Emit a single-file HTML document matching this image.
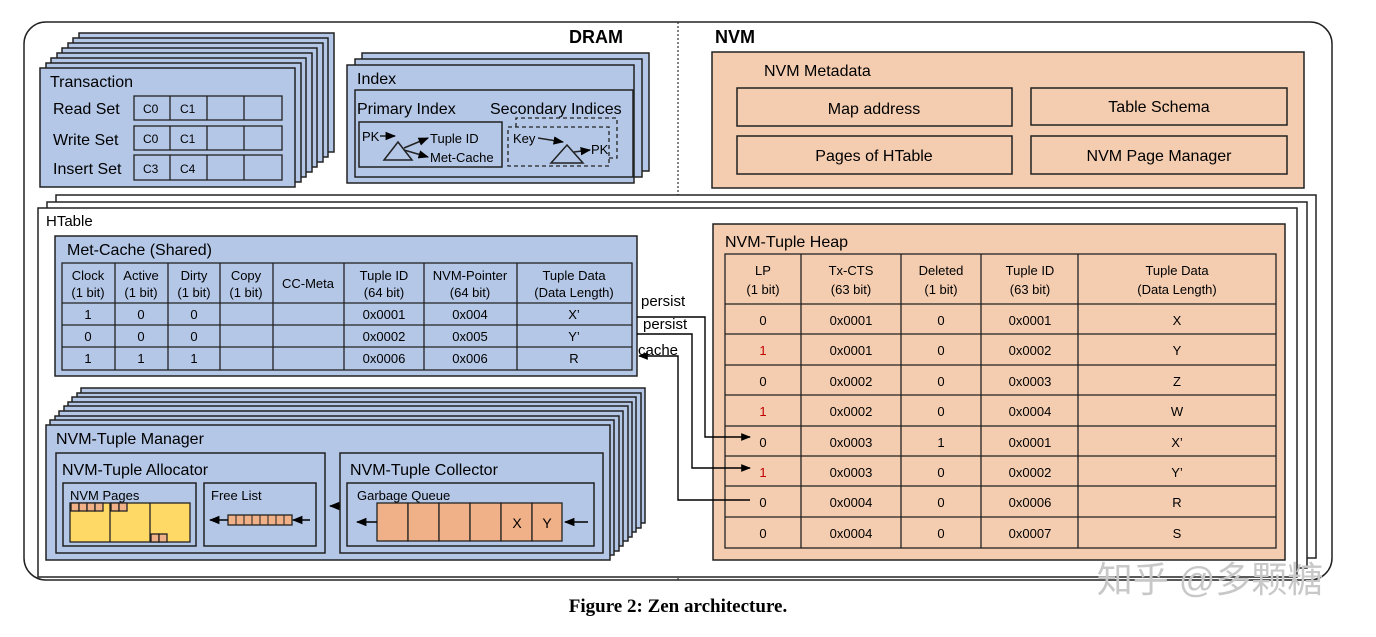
<!DOCTYPE html>
<html><head><meta charset="utf-8"><style>
html,body{margin:0;padding:0;background:#fff;width:1376px;height:637px;overflow:hidden}
svg{display:block}
text{font-family:"Liberation Sans",sans-serif;fill:#000}
</style></head><body>
<svg width="1376" height="637" viewBox="0 0 1376 637" xmlns="http://www.w3.org/2000/svg">
<defs>
<marker id="ar" viewBox="0 0 10 10" refX="9" refY="5" markerWidth="7" markerHeight="7" orient="auto"><path d="M0,1 L10,5 L0,9 z" fill="#000"/></marker>
</defs>
<g stroke="#222" stroke-width="1.5">
<!-- outer rounded -->
<rect x="24" y="22" width="1308" height="558" rx="22" fill="#fff"/>
</g>
<line x1="678" y1="22" x2="678" y2="580" stroke="#333" stroke-width="1.2" stroke-dasharray="2,2"/>
<text x="596" y="43" font-weight="bold" font-size="18" text-anchor="middle">DRAM</text>
<text x="735" y="43" font-weight="bold" font-size="18" text-anchor="middle">NVM</text>

<!-- Transaction stack -->
<g stroke="#222" stroke-width="1.5" fill="#b4c7e7">
<rect x="79" y="33" width="255" height="119"/>
<rect x="73" y="38" width="255" height="119"/>
<rect x="68" y="43" width="255" height="119"/>
<rect x="62" y="48" width="255" height="119"/>
<rect x="57" y="53" width="255" height="119"/>
<rect x="51" y="58" width="255" height="119"/>
<rect x="46" y="63" width="255" height="119"/>
<rect x="40" y="68" width="255" height="119"/>
</g>
<text x="50" y="87" font-size="16">Transaction</text>
<text x="53" y="114" font-size="16">Read Set</text>
<text x="53" y="145" font-size="16">Write Set</text>
<text x="53" y="174" font-size="16">Insert Set</text>
<g stroke="#222" stroke-width="1.3" fill="none">
<rect x="134" y="96" width="148" height="24"/><line x1="170" y1="96" x2="170" y2="120"/><line x1="207" y1="96" x2="207" y2="120"/><line x1="244" y1="96" x2="244" y2="120"/>
<rect x="134" y="126" width="148" height="24"/><line x1="170" y1="126" x2="170" y2="150"/><line x1="207" y1="126" x2="207" y2="150"/><line x1="244" y1="126" x2="244" y2="150"/>
<rect x="134" y="155" width="148" height="25"/><line x1="170" y1="155" x2="170" y2="180"/><line x1="207" y1="155" x2="207" y2="180"/><line x1="244" y1="155" x2="244" y2="180"/>
</g>
<g font-size="12"><text x="143" y="113">C0</text><text x="180" y="113">C1</text><text x="143" y="143">C0</text><text x="180" y="143">C1</text><text x="143" y="173">C3</text><text x="180" y="173">C4</text></g>

<!-- Index stack -->
<g stroke="#222" stroke-width="1.5" fill="#b4c7e7">
<rect x="362" y="53" width="287" height="118"/>
<rect x="355" y="59" width="287" height="118"/>
<rect x="347" y="65" width="287" height="118"/>
<rect x="355" y="90" width="278" height="87"/>
<rect x="359" y="122" width="143" height="45"/>
</g>
<text x="357" y="84" font-size="16">Index</text>
<text x="357" y="114" font-size="16">Primary Index</text>
<text x="490" y="114" font-size="16">Secondary Indices</text>
<g stroke="#222" stroke-width="1.3" fill="none" stroke-dasharray="4,3">
<polyline points="516,127 516,118 617,118 617,158 609,158"/>
<rect x="508" y="127" width="101" height="39"/>
</g>
<g stroke="#222" stroke-width="1.5" fill="none">
<polygon points="398,142 384,160 412,160"/>
<polygon points="567,145 551,163 583,163"/>
<line x1="380" y1="136" x2="395" y2="136" marker-end="url(#ar)"/>
<line x1="404" y1="148" x2="428" y2="138" marker-end="url(#ar)"/>
<line x1="404" y1="150" x2="428" y2="157" marker-end="url(#ar)"/>
<line x1="538" y1="138" x2="563" y2="142" marker-end="url(#ar)"/>
<line x1="574" y1="152" x2="590" y2="150" marker-end="url(#ar)"/>
</g>
<g font-size="13"><text x="362" y="141">PK</text><text x="430" y="143">Tuple ID</text><text x="430" y="162">Met-Cache</text><text x="513" y="143">Key</text><text x="591" y="154">PK</text></g>

<!-- NVM Metadata -->
<g stroke="#222" stroke-width="1.5" fill="#f4cdb0">
<rect x="712" y="52" width="592" height="136"/>
<rect x="737" y="88" width="275" height="38"/>
<rect x="1031" y="88" width="256" height="37"/>
<rect x="737" y="136" width="275" height="38"/>
<rect x="1031" y="136" width="256" height="38"/>
</g>
<text x="764" y="76" font-size="16">NVM Metadata</text>
<g font-size="16" text-anchor="middle"><text x="874" y="114">Map address</text><text x="1159" y="112">Table Schema</text><text x="874" y="161">Pages of HTable</text><text x="1159" y="161">NVM Page Manager</text></g>

<!-- HTable stack -->
<g stroke="#222" stroke-width="1.5" fill="#fff">
<rect x="56" y="195" width="1260" height="363"/>
<rect x="47" y="202" width="1260" height="366"/>
<rect x="38" y="208" width="1259" height="369"/>
</g>
<text x="46" y="226" font-size="15">HTable</text>

<!-- Met-Cache -->
<g stroke="#222" stroke-width="1.5" fill="#b4c7e7"><rect x="55" y="236" width="582" height="140"/></g>
<text x="67" y="255" font-size="16">Met-Cache (Shared)</text>
<g stroke="#222" stroke-width="1.3" fill="none">
<rect x="62" y="263" width="570" height="107"/>
<line x1="62" y1="303" x2="632" y2="303"/><line x1="62" y1="325" x2="632" y2="325"/><line x1="62" y1="347" x2="632" y2="347"/>
<line x1="115" y1="263" x2="115" y2="370"/><line x1="168" y1="263" x2="168" y2="370"/><line x1="220" y1="263" x2="220" y2="370"/><line x1="273" y1="263" x2="273" y2="370"/><line x1="344" y1="263" x2="344" y2="370"/><line x1="424" y1="263" x2="424" y2="370"/><line x1="517" y1="263" x2="517" y2="370"/>
</g>
<g font-size="13" text-anchor="middle">
<text x="88" y="280">Clock</text><text x="88" y="297">(1 bit)</text>
<text x="141" y="280">Active</text><text x="141" y="297">(1 bit)</text>
<text x="194" y="280">Dirty</text><text x="194" y="297">(1 bit)</text>
<text x="246" y="280">Copy</text><text x="246" y="297">(1 bit)</text>
<text x="308" y="288">CC-Meta</text>
<text x="384" y="280">Tuple ID</text><text x="384" y="297">(64 bit)</text>
<text x="470" y="280">NVM-Pointer</text><text x="470" y="297">(64 bit)</text>
<text x="574" y="280">Tuple Data</text><text x="574" y="297">(Data Length)</text>
<text x="88" y="319">1</text><text x="141" y="319">0</text><text x="194" y="319">0</text><text x="384" y="319">0x0001</text><text x="470" y="319">0x004</text><text x="574" y="319">X’</text>
<text x="88" y="341">0</text><text x="141" y="341">0</text><text x="194" y="341">0</text><text x="384" y="341">0x0002</text><text x="470" y="341">0x005</text><text x="574" y="341">Y’</text>
<text x="88" y="363">1</text><text x="141" y="363">1</text><text x="194" y="363">1</text><text x="384" y="363">0x0006</text><text x="470" y="363">0x006</text><text x="574" y="363">R</text>
</g>

<!-- Manager stack -->
<g stroke="#222" stroke-width="1.5" fill="#b4c7e7">
<rect x="81" y="388" width="564" height="135"/>
<rect x="77" y="393" width="564" height="135"/>
<rect x="72" y="397" width="564" height="135"/>
<rect x="68" y="402" width="564" height="135"/>
<rect x="64" y="406" width="564" height="135"/>
<rect x="59" y="411" width="564" height="135"/>
<rect x="55" y="416" width="564" height="135"/>
<rect x="50" y="420" width="564" height="135"/>
<rect x="46" y="425" width="564" height="135"/>
<rect x="56" y="453" width="269" height="100"/>
<rect x="340" y="453" width="263" height="100"/>
<rect x="63" y="483" width="133" height="63"/>
<rect x="204" y="483" width="112" height="63"/>
<rect x="347" y="483" width="247" height="63"/>
</g>
<text x="56" y="444" font-size="16">NVM-Tuple Manager</text>
<text x="62" y="475" font-size="16">NVM-Tuple Allocator</text>
<text x="350" y="475" font-size="16">NVM-Tuple Collector</text>
<text x="70" y="500" font-size="13">NVM Pages</text>
<text x="211" y="500" font-size="13">Free List</text>
<text x="357" y="500" font-size="13">Garbage Queue</text>
<g stroke="#222" stroke-width="1.3">
<rect x="70" y="503" width="120" height="39" fill="#ffd966"/>
<line x1="110" y1="503" x2="110" y2="542"/><line x1="150" y1="503" x2="150" y2="542"/>
<g fill="#f0b088"><rect x="71" y="503" width="8" height="8"/><rect x="79" y="503" width="8" height="8"/><rect x="87" y="503" width="8" height="8"/><rect x="95" y="503" width="8" height="8"/><rect x="111" y="503" width="8" height="8"/><rect x="119" y="503" width="8" height="8"/><rect x="151" y="534" width="8" height="8"/><rect x="159" y="534" width="8" height="8"/></g>
<rect x="228" y="515" width="64" height="10" fill="#f0b088"/>
<g fill="#f0b088"><rect x="377" y="503" width="31" height="38"/><rect x="408" y="503" width="31" height="38"/><rect x="439" y="503" width="31" height="38"/><rect x="470" y="503" width="31" height="38"/><rect x="501" y="503" width="31" height="38"/><rect x="532" y="503" width="30" height="38"/></g>
</g>
<g stroke="#222" stroke-width="1" ><line x1="236" y1="515" x2="236" y2="525"/><line x1="244" y1="515" x2="244" y2="525"/><line x1="252" y1="515" x2="252" y2="525"/><line x1="260" y1="515" x2="260" y2="525"/><line x1="268" y1="515" x2="268" y2="525"/><line x1="276" y1="515" x2="276" y2="525"/><line x1="284" y1="515" x2="284" y2="525"/></g>
<text x="517" y="528" font-size="14" text-anchor="middle">X</text><text x="547" y="528" font-size="14" text-anchor="middle">Y</text>
<g stroke="#000" stroke-width="1.5" fill="none">
<line x1="228" y1="520" x2="210" y2="520" marker-end="url(#ar)"/>
<line x1="310" y1="520" x2="293" y2="520" marker-end="url(#ar)"/>
<line x1="340" y1="506" x2="330" y2="506" marker-end="url(#ar)"/>
<line x1="377" y1="522" x2="357" y2="522" marker-end="url(#ar)"/>
<line x1="588" y1="522" x2="565" y2="522" marker-end="url(#ar)"/>
</g>

<!-- NVM Tuple Heap -->
<g stroke="#222" stroke-width="1.5" fill="#f4cdb0"><rect x="713" y="224" width="572" height="336"/></g>
<text x="725" y="247" font-size="16">NVM-Tuple Heap</text>
<g stroke="#222" stroke-width="1.3" fill="none">
<rect x="725" y="254" width="551" height="294"/>
<line x1="725" y1="304" x2="1276" y2="304"/><line x1="725" y1="334" x2="1276" y2="334"/><line x1="725" y1="365" x2="1276" y2="365"/><line x1="725" y1="395" x2="1276" y2="395"/><line x1="725" y1="426" x2="1276" y2="426"/><line x1="725" y1="456" x2="1276" y2="456"/><line x1="725" y1="486" x2="1276" y2="486"/><line x1="725" y1="517" x2="1276" y2="517"/>
<line x1="801" y1="254" x2="801" y2="548"/><line x1="901" y1="254" x2="901" y2="548"/><line x1="981" y1="254" x2="981" y2="548"/><line x1="1078" y1="254" x2="1078" y2="548"/>
</g>
<g font-size="13" text-anchor="middle">
<text x="763" y="275">LP</text><text x="763" y="294">(1 bit)</text>
<text x="851" y="275">Tx-CTS</text><text x="851" y="294">(63 bit)</text>
<text x="941" y="275">Deleted</text><text x="941" y="294">(1 bit)</text>
<text x="1030" y="275">Tuple ID</text><text x="1030" y="294">(63 bit)</text>
<text x="1177" y="275">Tuple Data</text><text x="1177" y="294">(Data Length)</text>
<text x="763" y="325">0</text><text x="851" y="325">0x0001</text><text x="941" y="325">0</text><text x="1030" y="325">0x0001</text><text x="1177" y="325">X</text>
<text x="763" y="355" style="fill:#c00000">1</text><text x="851" y="355">0x0001</text><text x="941" y="355">0</text><text x="1030" y="355">0x0002</text><text x="1177" y="355">Y</text>
<text x="763" y="386">0</text><text x="851" y="386">0x0002</text><text x="941" y="386">0</text><text x="1030" y="386">0x0003</text><text x="1177" y="386">Z</text>
<text x="763" y="416" style="fill:#c00000">1</text><text x="851" y="416">0x0002</text><text x="941" y="416">0</text><text x="1030" y="416">0x0004</text><text x="1177" y="416">W</text>
<text x="763" y="447">0</text><text x="851" y="447">0x0003</text><text x="941" y="447">1</text><text x="1030" y="447">0x0001</text><text x="1177" y="447">X’</text>
<text x="763" y="477" style="fill:#c00000">1</text><text x="851" y="477">0x0003</text><text x="941" y="477">0</text><text x="1030" y="477">0x0002</text><text x="1177" y="477">Y’</text>
<text x="763" y="507">0</text><text x="851" y="507">0x0004</text><text x="941" y="507">0</text><text x="1030" y="507">0x0006</text><text x="1177" y="507">R</text>
<text x="763" y="538">0</text><text x="851" y="538">0x0004</text><text x="941" y="538">0</text><text x="1030" y="538">0x0007</text><text x="1177" y="538">S</text>
</g>

<!-- connectors -->
<g stroke="#000" stroke-width="1.4" fill="none">
<polyline points="637,317 705,317 705,437 750,437" marker-end="url(#ar)"/>
<polyline points="637,334 692,334 692,468 750,468" marker-end="url(#ar)"/>
<polyline points="750,500 678,500 678,356 639,356" marker-end="url(#ar)"/>
</g>
<g font-size="15"><text x="641" y="306">persist</text><text x="643" y="329">persist</text><text x="638" y="355">cache</text></g>

<text x="1210" y="592" font-size="36" text-anchor="middle" style="fill:#c8c8c8;font-family:'Liberation Sans','Noto Sans CJK SC',sans-serif">知乎 @多颗糖</text>
<text x="678" y="612" font-size="19" font-weight="bold" text-anchor="middle" style="font-family:'Liberation Serif',serif">Figure 2: Zen architecture.</text>
</svg>
</body></html>
